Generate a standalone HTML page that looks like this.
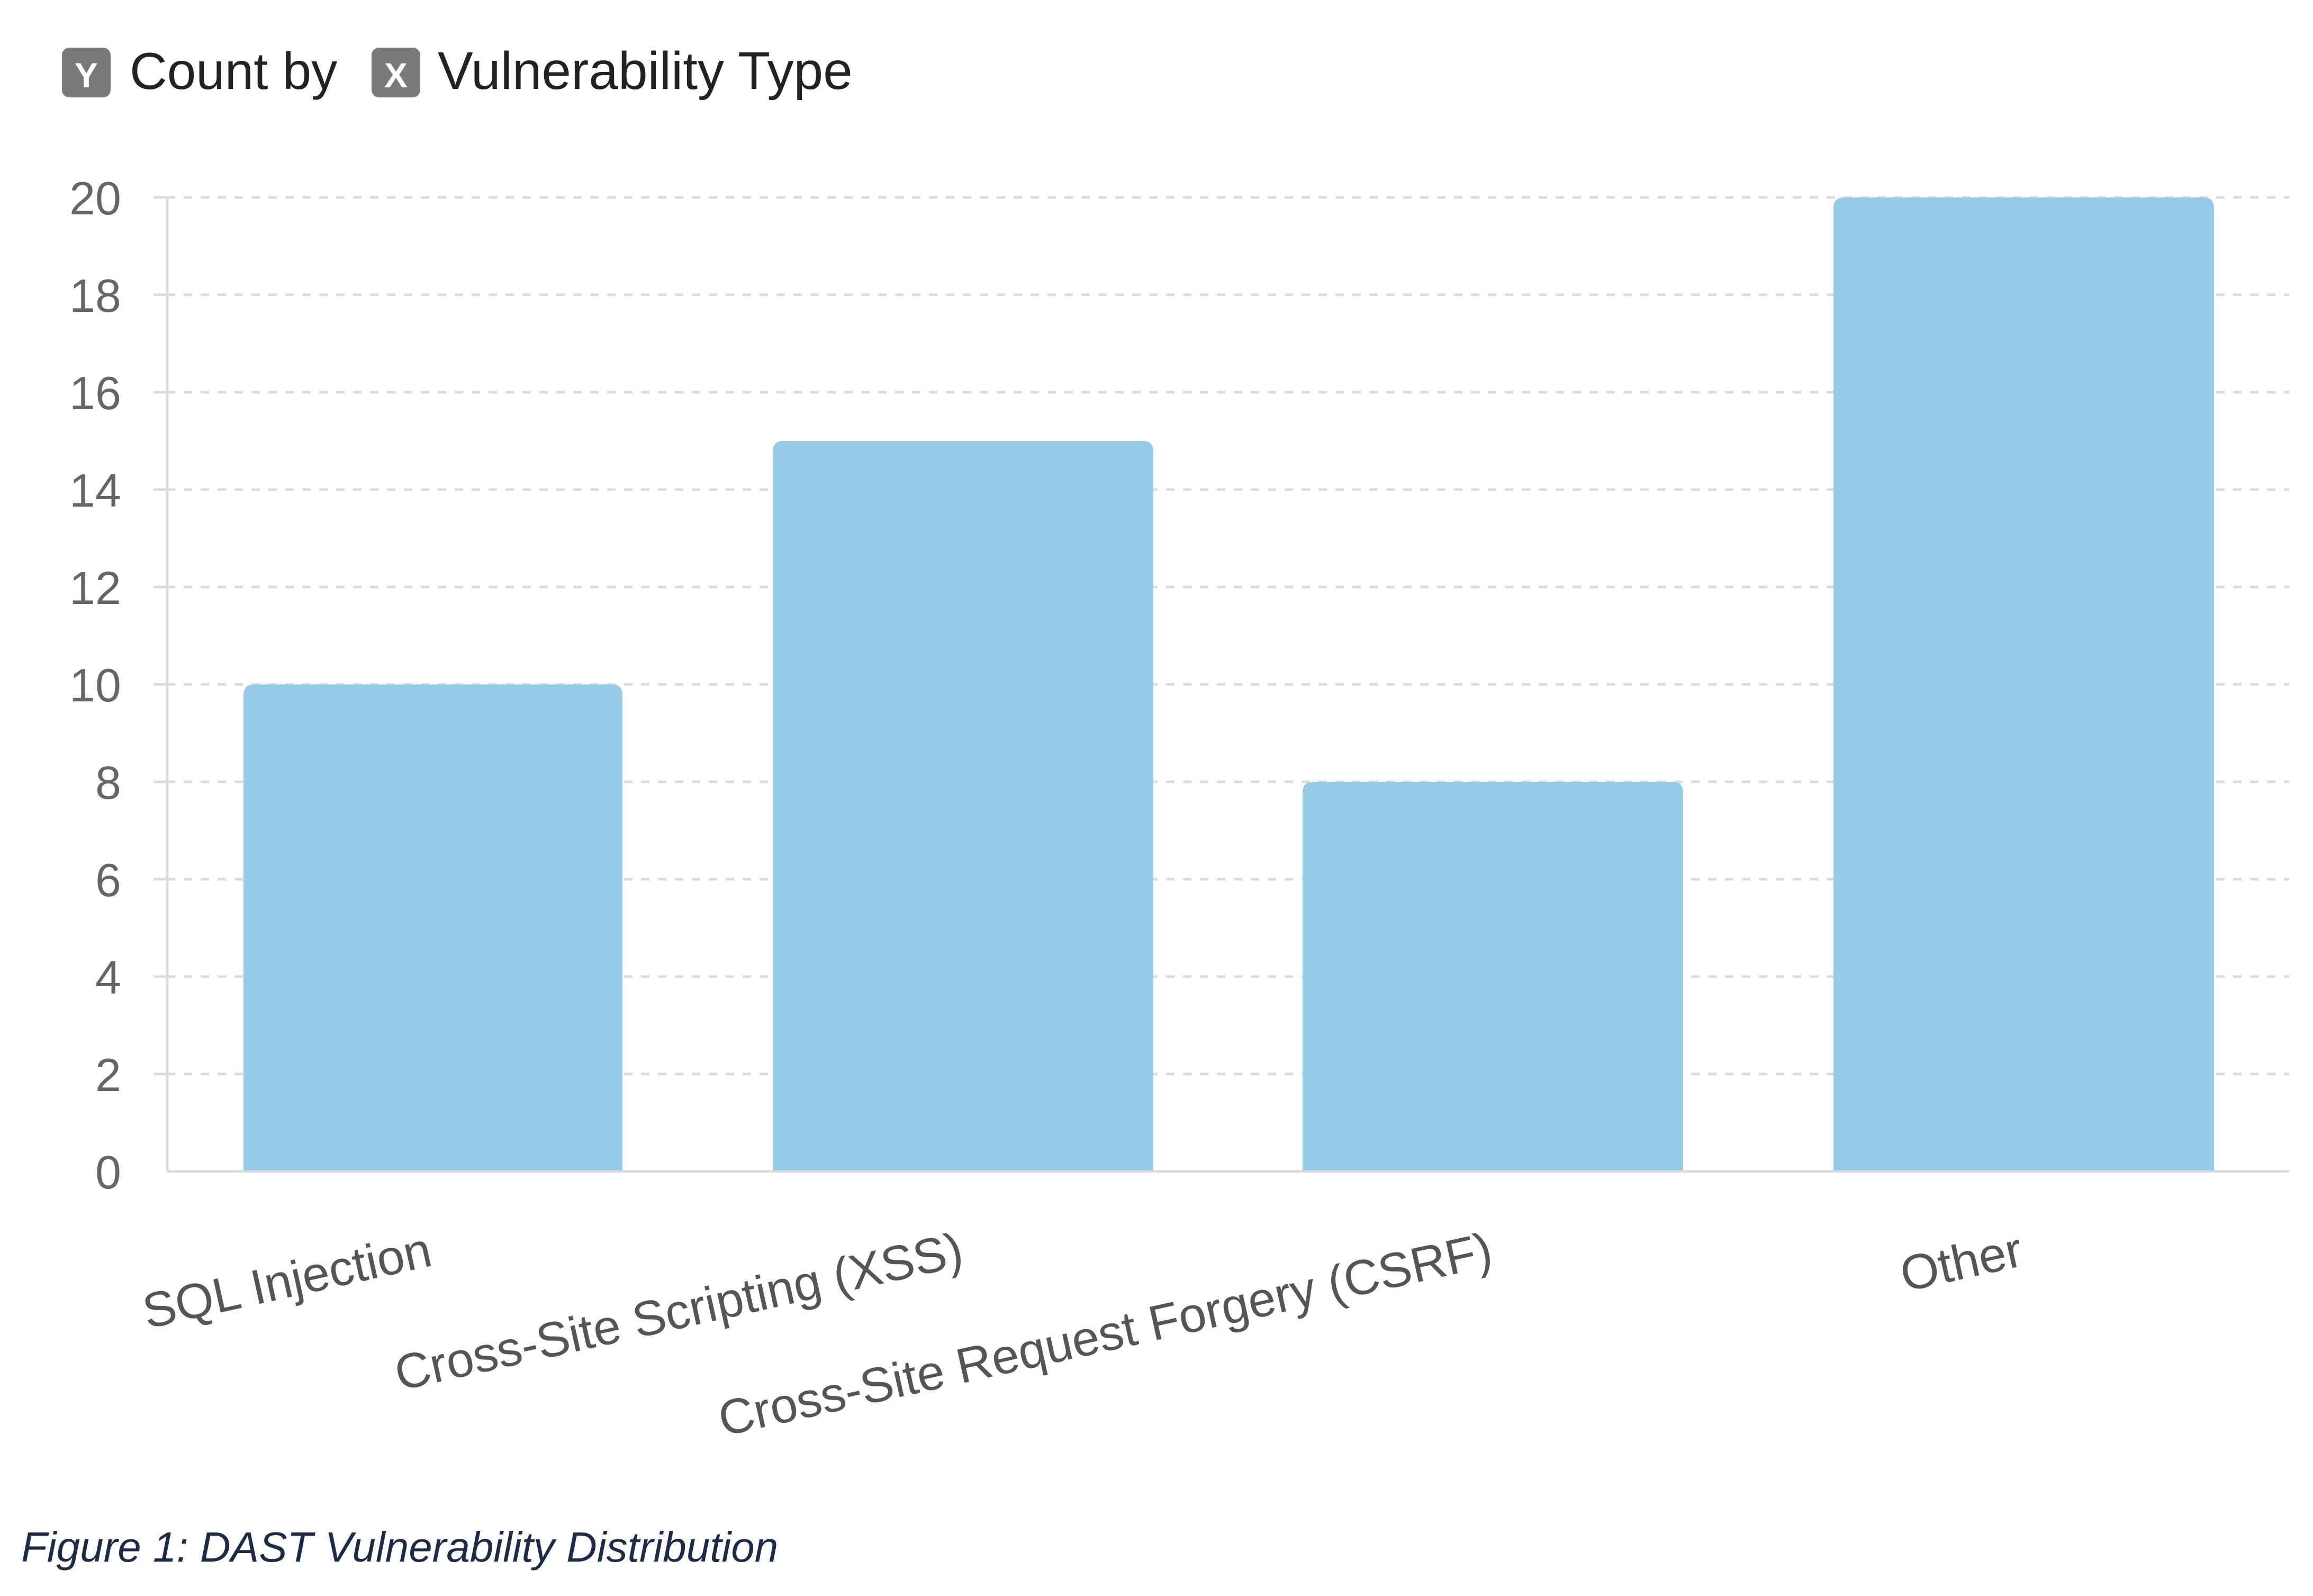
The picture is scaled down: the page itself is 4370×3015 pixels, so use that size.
<!DOCTYPE html>
<html><head><meta charset="utf-8"><style>
html,body{margin:0;padding:0;background:#fff;}
svg{display:block;}
</style></head><body>
<svg width="4370" height="3015" viewBox="0 0 4370 3015" xmlns="http://www.w3.org/2000/svg" font-family="Liberation Sans, sans-serif">
<rect width="4370" height="3015" fill="#fff"/>
<!-- legend -->
<rect x="117" y="90" width="92" height="94" rx="14" fill="#7a7a7a"/>
<text x="163" y="165" font-size="66" fill="#fff" text-anchor="middle" font-weight="bold">Y</text>
<text x="245" y="168" font-size="98" fill="#222">Count by</text>
<rect x="702" y="90" width="92" height="94" rx="14" fill="#7a7a7a"/>
<text x="748" y="165" font-size="66" fill="#fff" text-anchor="middle" font-weight="bold">X</text>
<text x="827" y="168" font-size="100" fill="#222">Vulnerability Type</text>
<!-- grid -->
<g stroke="#dcdcdc" stroke-width="5" stroke-dasharray="16,16">
<line x1="315" x2="4325" y1="373" y2="373"/>
<line x1="315" x2="4325" y1="557" y2="557"/>
<line x1="315" x2="4325" y1="741" y2="741"/>
<line x1="315" x2="4325" y1="925" y2="925"/>
<line x1="315" x2="4325" y1="1109" y2="1109"/>
<line x1="315" x2="4325" y1="1293" y2="1293"/>
<line x1="315" x2="4325" y1="1477" y2="1477"/>
<line x1="315" x2="4325" y1="1661" y2="1661"/>
<line x1="315" x2="4325" y1="1845" y2="1845"/>
<line x1="315" x2="4325" y1="2029" y2="2029"/>
</g>
<g stroke="#dcdcdc" stroke-width="5">
<line x1="290" x2="315" y1="373" y2="373"/><line x1="290" x2="315" y1="557" y2="557"/>
<line x1="290" x2="315" y1="741" y2="741"/><line x1="290" x2="315" y1="925" y2="925"/>
<line x1="290" x2="315" y1="1109" y2="1109"/><line x1="290" x2="315" y1="1293" y2="1293"/>
<line x1="290" x2="315" y1="1477" y2="1477"/><line x1="290" x2="315" y1="1661" y2="1661"/>
<line x1="290" x2="315" y1="1845" y2="1845"/><line x1="290" x2="315" y1="2029" y2="2029"/>
<line x1="316" x2="316" y1="373" y2="2213"/>
<line x1="316" x2="4325" y1="2213" y2="2213"/>
</g>
<!-- y labels -->
<g font-size="88" fill="#666" text-anchor="end">
<text x="229" y="405">20</text><text x="229" y="589">18</text><text x="229" y="773">16</text>
<text x="229" y="957">14</text><text x="229" y="1141">12</text><text x="229" y="1325">10</text>
<text x="229" y="1509">8</text><text x="229" y="1693">6</text><text x="229" y="1877">4</text>
<text x="229" y="2061">2</text><text x="229" y="2245">0</text>
</g>
<!-- bars -->
<g fill="#97cae6">
<path d="M460,2211 V1313 Q460,1293 480,1293 H1156 Q1176,1293 1176,1313 V2211 Z"/>
<path d="M1460,2211 V853 Q1460,833 1480,833 H2159 Q2179,833 2179,853 V2211 Z"/>
<path d="M2461,2211 V1497 Q2461,1477 2481,1477 H3160 Q3180,1477 3180,1497 V2211 Z"/>
<path d="M3464,2211 V393 Q3464,373 3484,373 H4163 Q4183,373 4183,393 V2211 Z"/>
</g>
<!-- x labels -->
<g font-size="93" fill="#555" text-anchor="end">
<text transform="translate(820,2390) rotate(-12.5)">SQL Injection</text>
<text transform="translate(1824,2390) rotate(-12.5)">Cross-Site Scripting (XSS)</text>
<text transform="translate(2824,2390) rotate(-12.5)">Cross-Site Request Forgery (CSRF)</text>
<text transform="translate(3826,2390) rotate(-12.5)">Other</text>
</g>
<text x="40" y="2950" font-size="80" font-style="italic" fill="#1b2b48">Figure 1: DAST Vulnerability Distribution</text>
</svg>
</body></html>
